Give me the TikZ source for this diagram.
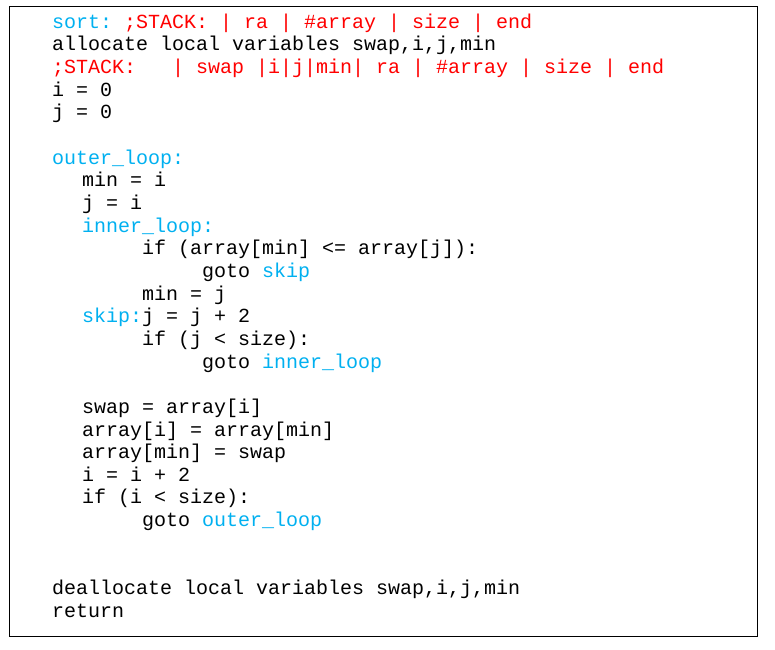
\documentclass[tikz,border=0pt]{standalone}
\usepackage{fontspec}
\newfontfamily\codefont{Liberation Mono}
\definecolor{labelblue}{RGB}{0,176,240}
\definecolor{stackred}{RGB}{255,0,0}
\tikzset{
	code/.style = {anchor = base west, inner sep = 0pt, font = \codefont\fontsize{20}{22}\selectfont\frenchspacing},
	frame/.style = {draw = black, line width = 0.9pt}
}

\begin{document}
\begin{tikzpicture}[x = 1pt, y = -1pt]%sort
	\useasboundingbox (0,0) rectangle (775,649);
	\draw[frame] (9,6) rectangle (757,636);
	\node[code] (sort) at (52,28.3) {\textcolor{labelblue}{sort:} \textcolor{stackred}{;STACK: | ra | \#array | size | end}};
	\node[code] (alloc) at (52,50.95) {allocate local variables swap,i,j,min};
	\node[code, text = stackred] (stack) at (52,73.6) {;STACK:\ \ \ | swap |i|j|min| ra | \#array | size | end};
	\node[code] (iinit) at (52,96.25) {i = 0};
	\node[code] (jinit) at (52,118.9) {j = 0};
	\node[code, text = labelblue] (outer) at (52,164.2) {outer\_loop:};
	\node[code] (minI) at (82,186.85) {min = i};
	\node[code] (jI) at (82,209.5) {j = i};
	\node[code, text = labelblue] (inner) at (82,232.15) {inner\_loop:};
	\node[code] (cmp) at (142,254.8) {if (array[min] <= array[j]):};
	\node[code] (gotoskip) at (202,277.45) {goto \textcolor{labelblue}{skip}};
	\node[code] (minJ) at (142,300.1) {min = j};
	\node[code] (skip) at (82,322.75) {\textcolor{labelblue}{skip:}j = j + 2};
	\node[code] (jtest) at (142,345.4) {if (j < size):};
	\node[code] (gotoinner) at (202,368.05) {goto \textcolor{labelblue}{inner\_loop}};
	\node[code] (swap) at (82,413.35) {swap = array[i]};
	\node[code] (movemin) at (82,436) {array[i] = array[min]};
	\node[code] (moveswap) at (82,458.65) {array[min] = swap};
	\node[code] (inext) at (82,481.3) {i = i + 2};
	\node[code] (itest) at (82,503.95) {if (i < size):};
	\node[code] (gotoouter) at (142,526.6) {goto \textcolor{labelblue}{outer\_loop}};
	\node[code] (dealloc) at (52,594.55) {deallocate local variables swap,i,j,min};
	\node[code] (ret) at (52,617.2) {return};
\end{tikzpicture}
\end{document}
